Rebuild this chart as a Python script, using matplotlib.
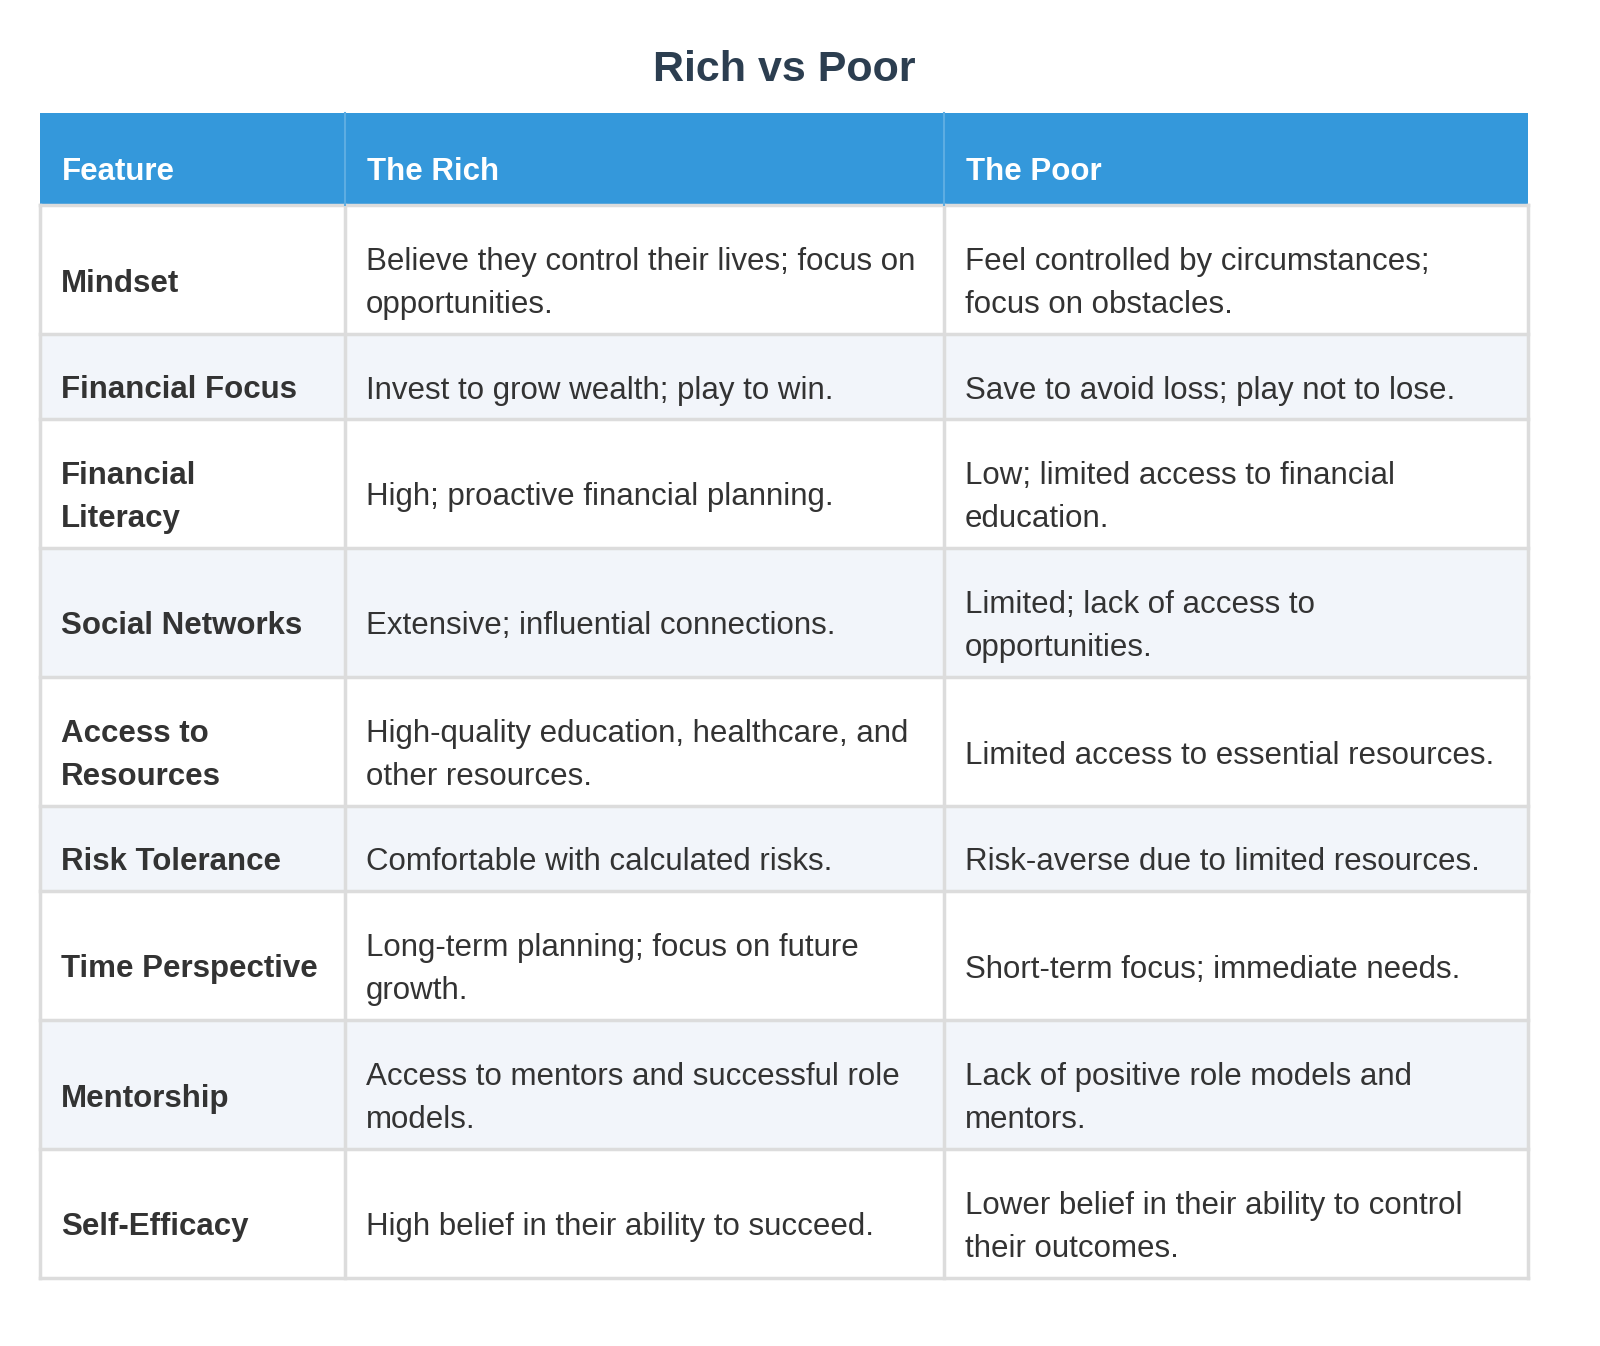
import matplotlib.pyplot as plt
from matplotlib.patches import Rectangle

plt.rcParams['font.family'] = ['Liberation Sans', 'DejaVu Sans']

title = "Rich vs Poor"
headers = ["Feature", "The Rich", "The Poor"]
features = ["Mindset", "Financial Focus", "Financial\nLiteracy", "Social Networks",
            "Access to\nResources", "Risk Tolerance", "Time Perspective",
            "Mentorship", "Self-Efficacy"]
rich = ["Believe they control their lives; focus on\nopportunities.",
        "Invest to grow wealth; play to win.",
        "High; proactive financial planning.",
        "Extensive; influential connections.",
        "High-quality education, healthcare, and\nother resources.",
        "Comfortable with calculated risks.",
        "Long-term planning; focus on future\ngrowth.",
        "Access to mentors and successful role\nmodels.",
        "High belief in their ability to succeed."]
poor = ["Feel controlled by circumstances;\nfocus on obstacles.",
        "Save to avoid loss; play not to lose.",
        "Low; limited access to financial\neducation.",
        "Limited; lack of access to\nopportunities.",
        "Limited access to essential resources.",
        "Risk-averse due to limited resources.",
        "Short-term focus; immediate needs.",
        "Lack of positive role models and\nmentors.",
        "Lower belief in their ability to control\ntheir outcomes."]

W, H = 1600, 1346
fig = plt.figure(figsize=(W / 100, H / 100), dpi=100)
ax = fig.add_axes([0, 0, 1, 1])
ax.set_xlim(0, W)
ax.set_ylim(H, 0)
ax.axis('off')

col_x = [40, 345, 944, 1528]
header_top, header_h = 113, 92
fs = 22.5
grid = '#dcdcdc'

ax.text(W / 2 - 16, 70, title, ha='center', va='center', fontsize=31,
        fontweight='bold', color='#2c3e50')

ax.add_patch(Rectangle((col_x[0], header_top), col_x[3] - col_x[0], header_h,
                       facecolor='#3498db', edgecolor='none'))
for i, h in enumerate(headers):
    ax.text(col_x[i] + 22, header_top + header_h / 2 + 13, h, ha='left', va='center',
            fontsize=fs, fontweight='bold', color='white')

y = header_top + header_h
for r in range(len(features)):
    cells = [features[r], rich[r], poor[r]]
    nlines = max(c.count('\n') + 1 for c in cells)
    rh = 85 if nlines == 1 else 129
    bg = 'white' if r % 2 == 0 else '#f2f5fa'
    ax.add_patch(Rectangle((col_x[0], y), col_x[3] - col_x[0], rh,
                           facecolor=bg, edgecolor='none'))
    for i, c in enumerate(cells):
        ax.text(col_x[i] + 21, y + rh / 2 + 14, c, ha='left', va='center',
                fontsize=fs, linespacing=1.6, color='#333333',
                fontweight='bold' if i == 0 else 'normal')
    y += rh
    ax.plot([col_x[0], col_x[3]], [y, y], color=grid, lw=2.5)

bottom = y
ax.plot([col_x[0], col_x[3]], [header_top + header_h] * 2, color=grid, lw=2.5)
for x in col_x:
    ax.plot([x, x], [header_top + header_h, bottom], color=grid, lw=2.5)
for x in col_x[1:3]:
    ax.plot([x, x], [header_top, header_top + header_h], color='#5dade2', lw=1.5)

fig.savefig('out.png', dpi=100)
